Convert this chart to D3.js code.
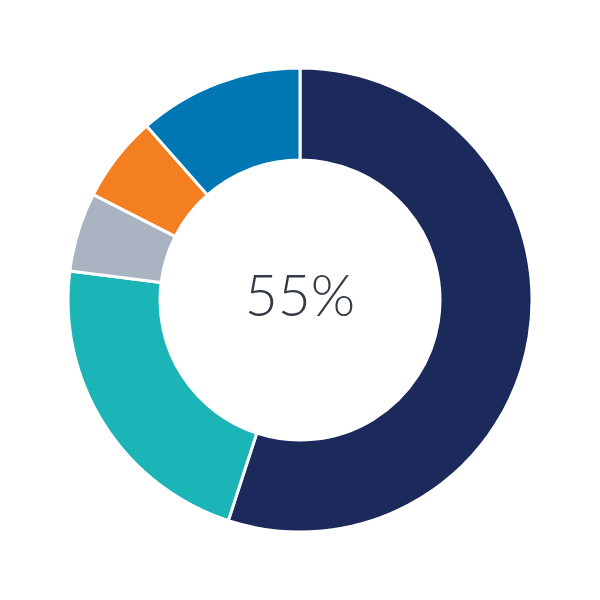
<!DOCTYPE html>
<html>
<head>
<meta charset="utf-8">
<script src="https://cdn.jsdelivr.net/npm/d3@7"></script>
<style>
  body { margin: 0; background: #fff; }
</style>
</head>
<body>
<div class="donutChart"></div>
<script>
var labels = ["A", "B", "C", "D", "E"];
var values = [55, 22, 5.5, 6, 11.5];
var colors = ["#1b2a5a", "#1bb5b8", "#a9b3c1", "#f47f20", "#0077b5"];
var centerLabel = "55%";

var width = 600,
    height = 600;

var svg = d3.select(".donutChart")
            .append("svg")
            .attr("width", width)
            .attr("height", height);

var g = svg.append("g")
           .attr("transform", "translate(300,300)");

var pie = d3.pie().sort(null).value(function(d) { return d; });

var arc = d3.arc()
    .innerRadius(140)
    .outerRadius(232);

g.selectAll("path")
  .data(pie(values))
  .enter().append("path")
  .attr("d", arc)
  .attr("fill", function(d, i) { return colors[i]; })
  .attr("stroke", "#fff")
  .attr("stroke-width", 3);

g.append("text")
  .attr("text-anchor", "middle")
  .attr("dy", "0.35em")
  .attr("y", -4)
  .style("font-family", "Lato, 'Open Sans', sans-serif")
  .style("font-weight", 300)
  .style("font-size", "57px")
  .style("fill", "#353a45")
  .text(centerLabel);
</script>
</body>
</html>
